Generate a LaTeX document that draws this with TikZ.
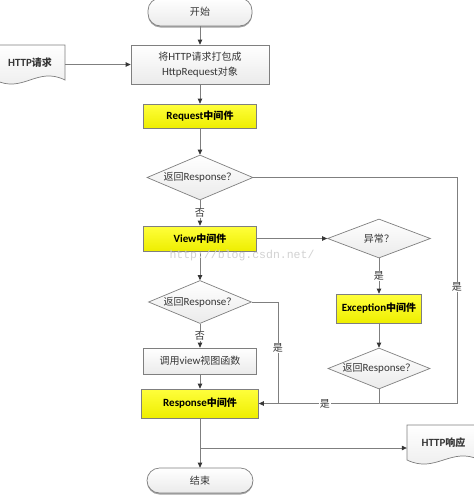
\documentclass[tikz,border=0pt]{standalone}
\usepackage{fontspec}
\setmainfont{Carlito}
\newfontfamily\cjk[Scale=0.91]{Noto Sans CJK SC}
\newfontfamily\wmfont{Liberation Mono}
\usetikzlibrary{shapes.geometric,arrows.meta,shadows,calc}
\definecolor{bord}{HTML}{7F7F7F}
\definecolor{txtc}{HTML}{363636}
\newcommand{\zh}[1]{{\cjk #1}}
\begin{document}
\begin{tikzpicture}[x=1pt,y=-1pt,
  base/.style={draw=bord, line width=0.7pt, font=\fontsize{11}{15}\selectfont, inner sep=0pt, align=center},
  graybox/.style={base, rectangle, top color=white, bottom color=black!8, text=txtc},
  ylwbox/.style={base, rectangle, top color={rgb,255:red,255;green,255;blue,60}, bottom color={rgb,255:red,238;green,238;blue,0}, font=\fontsize{11}{13}\selectfont\bfseries, text=black},
  term/.style={base, rectangle, rounded corners=12.5pt, top color=white, bottom color=black!8, text=txtc, drop shadow={shadow xshift=0pt, shadow yshift=-1.5pt, fill=black!45, opacity=0.8}},
  dia/.style={base, diamond, top color=white, bottom color=black!8},
  txt/.style={font=\fontsize{11}{13}\selectfont, text=txtc, inner sep=0pt},
  doctxt/.style={font=\fontsize{11}{13}\selectfont\bfseries, text=txtc, inner sep=0pt},
  lbl/.style={font=\fontsize{11}{13}\selectfont, text=txtc, fill=white, inner sep=1pt},
  conn/.style={draw=bord, line width=0.7pt},
  arr/.style={conn, -{Triangle[length=5pt,width=4.5pt,color=txtc]}},
  docline/.style={draw=bord, line width=0.7pt, top color=white, bottom color=black!8}
]
\useasboundingbox (0,0) rectangle (474,496);

% document shapes
\path[docline] (-5,45) -- (65,45) -- (65,80) .. controls (37,66) and (23,94) .. (-5,80) -- cycle;
\node[doctxt, minimum width=70pt, minimum height=35pt] (reqdoc) at (30,62.5) {HTTP\zh{请求}};
\path[docline] (407,425) -- (480,425) -- (480,460) .. controls (451,446) and (436,474) .. (407,460) -- cycle;
\node[doctxt, minimum width=73pt, minimum height=35pt] (respdoc) at (443.5,442.5) {HTTP\zh{响应}};

% main nodes
\node[term, minimum width=104pt, minimum height=28pt] (start) at (200,12) {\zh{开始}};
\node[graybox, minimum width=138pt, minimum height=39pt] (pack) at (200,64.5) {\zh{将}HTTP\zh{请求打包成}\\HttpRequest\zh{对象}};
\node[ylwbox, minimum width=113pt, minimum height=24pt] (reqmw) at (200,116) {Request\zh{中间件}};
\node[dia, minimum width=106pt, minimum height=45pt] (d1) at (200,177.5) {};
\node[txt] at (d1) {\zh{返回}Response\zh{？}};
\node[ylwbox, minimum width=113pt, minimum height=25pt] (view) at (200,238.5) {View\zh{中间件}};
\node[dia, minimum width=103pt, minimum height=39pt] (exc) at (379,238.5) {};
\node[txt] at (exc) {\zh{异常？}};
\node[dia, minimum width=103pt, minimum height=43pt] (d2) at (200,302) {};
\node[txt] at (d2) {\zh{返回}Response\zh{？}};
\node[ylwbox, minimum width=85pt, minimum height=29pt] (excmw) at (379,308.5) {Exception\zh{中间件}};
\node[graybox, minimum width=113pt, minimum height=26pt] (callview) at (200,361) {\zh{调用}view\zh{视图函数}};
\node[dia, minimum width=102pt, minimum height=41pt] (d3) at (379,368.5) {};
\node[txt] at (d3) {\zh{返回}Response\zh{？}};
\node[ylwbox, minimum width=117pt, minimum height=29pt] (resp) at (200,403.5) {Response\zh{中间件}};
\node[term, minimum width=106pt, minimum height=25pt] (end) at (200,480.5) {\zh{结束}};

% helper coordinates
\coordinate (rx) at (457,0);
\coordinate (mx) at (278,0);
\coordinate (br) at (200,448);

% connectors
\draw[arr] (start) -- (pack);
\draw[arr] (reqdoc.east |- pack.west) -- (pack.west);
\draw[arr] (pack) -- (reqmw);
\draw[arr] (reqmw) -- (d1);
\draw[arr] (d1) -- (view);
\draw[arr] (d1.east) -- (d1.east -| rx) -- (rx |- resp.east) -- (resp.east);
\draw[arr] (view) -- (exc);
\draw[arr] (exc) -- (excmw);
\draw[arr] (view) -- (d2);
\draw[conn] (d2.east) -- (d2.east -| mx) -- (mx |- resp.east);
\draw[arr] (d2) -- (callview);
\draw[arr] (callview) -- (resp);
\draw[arr] (excmw) -- (d3);
\draw[conn] (d3.south) -- (d3.south |- resp.east);
\draw[arr] (resp) -- (end);
\draw[arr] (br) -- (br -| respdoc.west);

% labels
\node[lbl] at (200,213) {\zh{否}};
\node[lbl] at (200,336) {\zh{否}};
\node[lbl] at (379,276) {\zh{是}};
\node[lbl] at (457,287) {\zh{是}};
\node[lbl] at (278,348) {\zh{是}};
\node[lbl] at (325,403.5) {\zh{是}};

% watermark
\node[font=\wmfont\fontsize{11.5}{12}\selectfont, text=black!18, inner sep=0pt] at (242,256) {http://blog.csdn.net/};
\end{tikzpicture}
\end{document}
